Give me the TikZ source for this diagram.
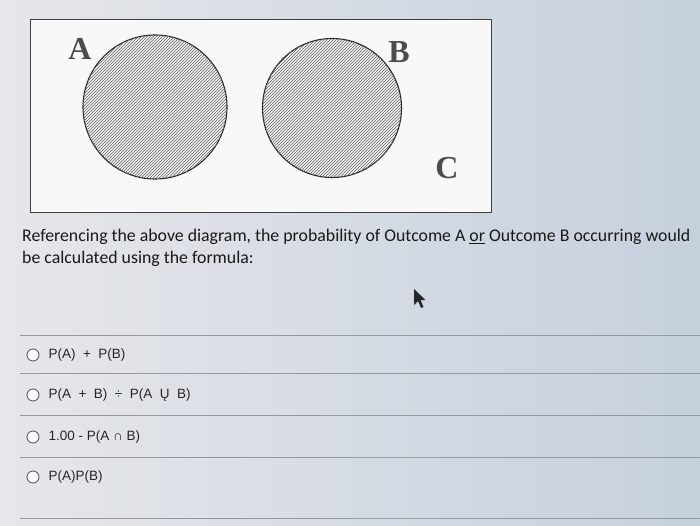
\documentclass[tikz,border=0pt]{standalone}
\usepackage{fontspec}
\setmainfont{Carlito}
\newfontfamily\optfont{Liberation Sans}
\newfontfamily\labfont{Liberation Serif}
\usetikzlibrary{patterns,positioning,calc}
\definecolor{bgleft}{RGB}{230,231,234}
\definecolor{bgright}{RGB}{198,208,221}
\definecolor{hatchgrey}{RGB}{95,95,98}
\definecolor{rulegrey}{RGB}{150,154,160}
\tikzset{
    setcirc/.style={circle, draw=black!85, line width=1.1pt, minimum size=#1, inner sep=0pt,
        fill=gray!8, postaction={pattern=north east lines, pattern color=hatchgrey}},
    setlab/.style={font=\labfont\bfseries\fontsize{32}{32}\selectfont, text=black!70, inner sep=0pt},
    radio/.style={circle, draw=gray!60!black, line width=0.8pt, minimum size=12pt, inner sep=0pt, fill=white},
    opttext/.style={font=\optfont\fontsize{13.5}{13.5}\selectfont, text=black!85, inner sep=0pt, anchor=west},
    qline/.style={anchor=base west, inner sep=0pt, text=black!90, font=\fontsize{17.8}{21}\selectfont},
    sepline/.style={draw=rulegrey, line width=0.6pt}
}
\begin{document}
\begin{tikzpicture}[x=1pt, y=-1pt]
    \useasboundingbox (0,0) rectangle (700,526);
    \shade[left color=bgleft, right color=bgright] (0,0) rectangle (700,526);

    % universe box with the two disjoint sets
    \draw[draw=black!75, line width=0.8pt, fill=white!70!bgleft] (30,19) rectangle (491,212);
    \node[setcirc=144pt] (circA) at (155,107) {};
    \node[setcirc=139pt] (circB) at (332,108) {};
    \node[setlab] (labA) at (80,49) {A};
    \node[setlab] (labB) at (399,52) {B};
    \node[setlab] (labC) at (447,168) {C};

    % question
    \node[qline] (qlineA) at (22,242)
        {Referencing the above diagram, the probability of Outcome A \underline{or} Outcome B occurring would};
    \node[qline] (qlineB) at (22,263) {be calculated using the formula:};

    % mouse pointer
    \fill[black!85] (414,289) -- (414,305) -- (418,301) -- (421,308) -- (423.5,307)
        -- (420.5,300) -- (425.5,300) -- cycle;

    % answer rows
    \foreach \yy in {335,373,415,457,518}
        \draw[sepline] (20,\yy) -- (700,\yy);

    \node[radio] (radioA) at (33,355) {};
    \node[radio] (radioB) at (33,395) {};
    \node[radio] (radioC) at (33,437) {};
    \node[radio] (radioD) at (33,477) {};
    \node[opttext, right=9pt of radioA] (optA) {P(A)~~+~~P(B)};
    \node[opttext, right=9pt of radioB] (optB) {P(A~~+~~B)~~÷~~P(A~~Ų~~B)};
    \node[opttext, right=9pt of radioC] (optC) {1.00~-~P(A~∩~B)};
    \node[opttext, right=9pt of radioD] (optD) {P(A)P(B)};
\end{tikzpicture}
\end{document}
